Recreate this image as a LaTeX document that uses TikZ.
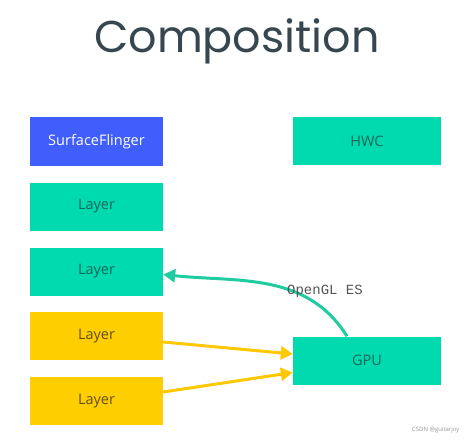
\documentclass[tikz,border=0pt]{standalone}
\usepackage{fontspec}
\setmainfont{Open Sans}
\newfontfamily\titlefont{Poppins}
\setmonofont{Liberation Mono}
\usetikzlibrary{arrows.meta,calc}
\definecolor{cBg}     {RGB}{255,255,255}
\definecolor{cTitle}  {RGB}{55,71,79}
\definecolor{cBlue}   {RGB}{64,94,252}
\definecolor{cTeal}   {RGB}{0,218,174}
\definecolor{cTealTx} {RGB}{18,104,90}
\definecolor{cYellow} {RGB}{255,206,0}
\definecolor{cYellTx} {RGB}{98,78,20}
\definecolor{cArrowG} {RGB}{30,204,160}
\definecolor{cArrowY} {RGB}{255,200,0}
\definecolor{cLabel}  {RGB}{85,85,85}
\definecolor{cMark}   {RGB}{150,150,150}
\def\Wleft{133}
\def\Wright{148}
\def\Hbox{48}
\tikzset{
  box/.style={rectangle,inner sep=0pt,minimum height=\Hbox pt,font=\fontsize{14.5}{17}\selectfont},
  sfbox/.style={box,fill=cBlue,text=white,minimum width=\Wleft pt},
  tealbox/.style={box,fill=cTeal,text=cTealTx,minimum width=\Wleft pt},
  yellbox/.style={box,fill=cYellow,text=cYellTx,minimum width=\Wleft pt},
  hwbox/.style={box,fill=cTeal,text=cTealTx,minimum width=\Wright pt},
  glarrow/.style={cArrowG,line width=3pt,-{Triangle[length=12pt,width=13pt]}},
  yarrow/.style={cArrowY,line width=3pt,-{Triangle[length=12pt,width=13pt]}},
}

\begin{document}
\begin{tikzpicture}[x=1pt,y=1pt]

% fundo
\fill[cBg] (0,0) rectangle (474,440);
\useasboundingbox (0,0) rectangle (474,440);

% =================== TITLE ===================
\node[font=\titlefont\fontsize{44.5}{52}\selectfont,text=cTitle,anchor=base] (title) at (237,387) {Composition};

% =================== LEFT COLUMN ===================
\node[sfbox]   (sf)     at (96.5,298.5) {SurfaceFlinger};
\node[tealbox] (layerA) at (96.5,233.5) {Layer};
\node[tealbox] (layerB) at (96.5,168.5) {Layer};
\node[yellbox] (layerC) at (96.5,104)   {Layer};
\node[yellbox] (layerD) at (96.5,39)    {Layer};

% =================== RIGHT COLUMN ===================
\node[hwbox] (hwc) at (367,299)  {HWC};
\node[hwbox] (gpu) at (367,79.5) {GPU};

% =================== ARROWS ===================
\draw[yarrow] ([yshift=-6pt]layerC.east) -- ([yshift=6.5pt]gpu.west);
\draw[yarrow] ([yshift=9pt]layerD.east) -- ([yshift=-12pt]gpu.west);
\draw[glarrow] ([xshift=-20pt]gpu.north) to[out=122,in=-6] ([yshift=-3pt]layerB.east);
\node[font=\ttfamily\fontsize{14}{16}\selectfont,text=cLabel] (gl) at (325,149) {OpenGL ES};

% watermark
\node[font=\fontsize{6}{7}\selectfont,text=cMark,anchor=east] (mark) at (463,10) {CSDN @guitarjoy};

\end{tikzpicture}
\end{document}
